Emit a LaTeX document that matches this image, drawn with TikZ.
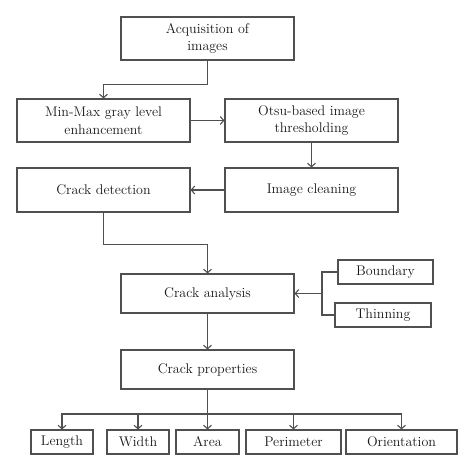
\documentclass[tikz,border=0pt]{standalone}
\usepackage{xcolor}
\definecolor{linegray}{RGB}{80,80,80}
\definecolor{textgray}{RGB}{25,25,25}
\usetikzlibrary{positioning,arrows.meta}

\tikzset{
	stagebox/.style={draw=linegray, line width=1.1pt, align=center, inner sep=0pt,
		text=textgray, font=\fontsize{14}{17.5}\selectfont},
	bigbox/.style={stagebox, minimum width=173pt, minimum height=43pt},
	smallbox/.style={stagebox, minimum height=24pt},
	flow/.style={draw=linegray, line width=1.1pt, -{Straight Barb[length=3.5pt,width=8pt]}},
	link/.style={draw=linegray, line width=1.1pt}
}

\begin{document}
\begin{tikzpicture}[x=1pt,y=-1pt]
			\useasboundingbox (0,0) rectangle (474,471);
			
			%%% main chain
			\node[bigbox] (acq) at (207.5,38.5) {Acquisition of\\images};
			\node[bigbox] (minmax) at (103.5,120.5) {Min-Max gray level\\enhancement};
			\node[bigbox] (otsu) at (311.5,120.5) {Otsu-based image\\thresholding};
			\node[bigbox, minimum height=44pt] (detect) at (103.5,190) {Crack detection};
			\node[bigbox, minimum height=44pt] (clean) at (311.5,190) {Image cleaning};
			\node[bigbox, minimum height=39pt] (analysis) at (207.5,293.5) {Crack analysis};
			\node[bigbox, minimum height=39pt] (props) at (207.5,369.5) {Crack properties};
			
			%%% side inputs
			\node[smallbox, minimum width=95pt] (boundary) at (385.5,272) {Boundary};
			\node[smallbox, minimum width=96pt] (thinning) at (383,315) {Thinning};
			
			%%% properties
			\node[smallbox, minimum width=62pt] (length) at (62,442) {Length};
			\node[smallbox, minimum width=62pt] (width) at (138,442) {Width};
			\node[smallbox, minimum width=63pt] (area) at (207.5,442) {Area};
			\node[smallbox, minimum width=95pt] (perimeter) at (293.5,442) {Perimeter};
			\node[smallbox, minimum width=111pt] (orientation) at (401.5,442) {Orientation};
			
			\coordinate (join) at (322,293.5);
			\coordinate (bus) at (207.5,414);
			
			\draw[flow] (acq.south) -- ++(0,24) -| (minmax.north);
			\draw[flow] (minmax.east) -- (otsu.west);
			\draw[flow] (otsu.south) -- (clean.north);
			\draw[flow] (clean.west) -- (detect.east);
			\draw[flow] (detect.south) -- ++(0,32) -| (analysis.north);
			
			\draw[link] (boundary.west) -| (join) |- (thinning.west);
			\draw[flow] (join) -- (analysis.east);
			\draw[flow] (analysis.south) -- (props.north);
			
			\draw[link] (props.south) -- (bus);
			\foreach \prop in {length,width,area,perimeter,orientation}
				\draw[flow] (bus) -| (\prop.north);
			
		\end{tikzpicture}
\end{document}
